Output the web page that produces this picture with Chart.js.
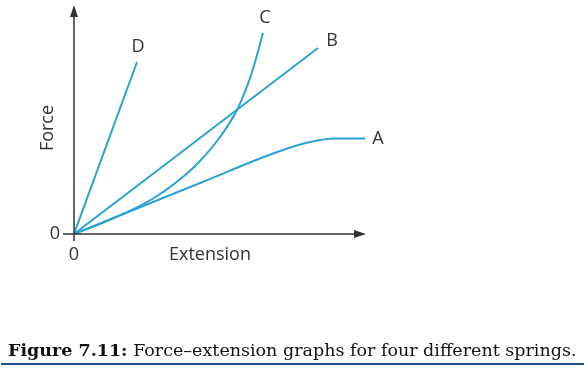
<!DOCTYPE html>
<html>
<head>
<meta charset="utf-8">
<script src="https://cdn.jsdelivr.net/npm/chart.js@4/dist/chart.umd.min.js"></script>
<style>
  html, body { margin: 0; padding: 0; background: #fff; }
  #wrap { position: relative; width: 588px; height: 377px; overflow: hidden; }
  #c { position: absolute; left: 0; top: 0; }
  #cap { position: absolute; left: 8px; top: 340px; font-family: "DejaVu Serif", serif; font-size: 17.5px; line-height: 20px; color: #111; white-space: nowrap; }
  #cap b { font-weight: bold; }
  #rule { position: absolute; left: 1px; top: 363px; width: 583px; height: 2px; background: #1d4f8f; }
</style>
</head>
<body>
<div id="wrap">
  <canvas id="c" width="588" height="377"></canvas>
  <div id="cap"><b>Figure 7.11:</b> Force–extension graphs for four different springs.</div>
  <div id="rule"></div>
</div>
<script>
// Series (x = extension, y = force, arbitrary units)
const seriesNames = ["A", "B", "C", "D"];
const aX = [0, 126, 206, 236, 261, 291];
const aY = [0, 51, 83, 92, 95.5, 95.5];
const bX = [0, 244];
const bY = [0, 186];
const cX = [0, 40, 80, 110, 126, 146, 164, 178, 189];
const cY = [0, 16, 36, 58, 73, 97, 126, 162, 201];
const dX = [0, 63];
const dY = [0, 172];
const xTickLabels = ["0"];
const yTickLabels = ["0"];
const xTitle = "Extension";
const yTitle = "Force";

const toPts = (xs, ys) => xs.map((x, i) => ({ x: x, y: ys[i] }));
const lineColor = "#2aa2d6";
const axisColor = "#333333";
const textFont = '18px "Open Sans", "Noto Sans", sans-serif';

const mkDs = (name, xs, ys) => ({
  label: name,
  data: toPts(xs, ys),
  borderColor: lineColor,
  borderWidth: 2,
  pointRadius: 0,
  fill: false,
  cubicInterpolationMode: "monotone",
  borderCapStyle: "butt"
});

const decor = {
  id: "decor",
  afterDatasetsDraw(chart) {
    const ctx = chart.ctx;
    const xs = chart.scales.x, ys = chart.scales.y;
    const ox = xs.getPixelForValue(0), oy = ys.getPixelForValue(0);
    const xEnd = xs.right, yEnd = ys.top;
    ctx.save();
    ctx.strokeStyle = axisColor;
    ctx.fillStyle = axisColor;
    ctx.lineWidth = 1.5;
    // axes
    ctx.beginPath();
    ctx.moveTo(ox - 11, oy); ctx.lineTo(xEnd - 8, oy);
    ctx.moveTo(ox, oy + 7); ctx.lineTo(ox, yEnd + 8);
    ctx.stroke();
    // arrow heads
    ctx.beginPath();
    ctx.moveTo(xEnd, oy); ctx.lineTo(xEnd - 12, oy - 4); ctx.lineTo(xEnd - 12, oy + 4); ctx.closePath();
    ctx.fill();
    ctx.beginPath();
    ctx.moveTo(ox, yEnd); ctx.lineTo(ox - 4, yEnd + 12); ctx.lineTo(ox + 4, yEnd + 12); ctx.closePath();
    ctx.fill();
    // tick labels
    ctx.font = textFont;
    ctx.fillStyle = axisColor;
    ctx.textAlign = "center"; ctx.textBaseline = "middle";
    ctx.fillText(yTickLabels[0], ox - 19, oy);
    ctx.fillText(xTickLabels[0], ox, oy + 21);
    // axis titles
    ctx.fillText(xTitle, xs.getPixelForValue(136), oy + 21);
    ctx.save();
    ctx.translate(ox - 26, ys.getPixelForValue(106));
    ctx.rotate(-Math.PI / 2);
    ctx.fillText(yTitle, 0, 0);
    ctx.restore();
    // series labels near line ends
    const ends = [[aX, aY, 13, 0], [bX, bY, 14, -7], [cX, cY, 2, -15], [dX, dY, 1, -15]];
    ends.forEach((e, i) => {
      const xv = e[0][e[0].length - 1], yv = e[1][e[1].length - 1];
      ctx.fillText(seriesNames[i], xs.getPixelForValue(xv) + e[2], ys.getPixelForValue(yv) + e[3]);
    });
    ctx.restore();
  }
};

new Chart(document.getElementById("c"), {
  type: "line",
  data: {
    datasets: [mkDs("A", aX, aY), mkDs("B", bX, bY), mkDs("C", cX, cY), mkDs("D", dX, dY)]
  },
  options: {
    responsive: false,
    animation: false,
    layout: { padding: { left: 74, right: 222, top: 5, bottom: 143 } },
    plugins: { legend: { display: false }, tooltip: { enabled: false }, title: { display: false } },
    scales: {
      x: { type: "linear", min: 0, max: 292, display: false },
      y: { type: "linear", min: 0, max: 229, display: false }
    }
  },
  plugins: [decor]
});
</script>
</body>
</html>
